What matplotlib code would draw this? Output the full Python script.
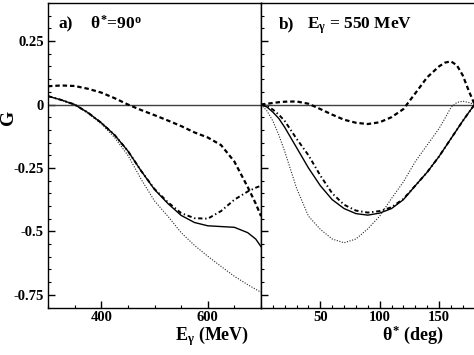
import matplotlib
matplotlib.use("Agg")
import matplotlib.pyplot as plt
from matplotlib.ticker import MultipleLocator

plt.rcParams['font.family'] = ['Liberation Serif', 'DejaVu Serif']
plt.rcParams['font.weight'] = 'bold'
plt.rcParams['mathtext.fontset'] = 'custom'
plt.rcParams['mathtext.rm'] = 'Liberation Serif:bold'
plt.rcParams['mathtext.it'] = 'Liberation Serif:bold'
plt.rcParams['mathtext.bf'] = 'Liberation Serif:bold'

# panel a) theta* = 90 deg, G vs photon energy
egam = [300, 325, 350, 375, 400, 425, 450, 475, 500, 525, 550, 575, 600, 625, 650, 675, 690, 700]
a_solid = [0.033, 0.018, 0.0, -0.032, -0.072, -0.12, -0.183, -0.262, -0.335, -0.39, -0.437, -0.465,
           -0.478, -0.481, -0.484, -0.505, -0.53, -0.56]
a_dashed = [0.072, 0.075, 0.073, 0.062, 0.047, 0.025, 0.0, -0.022, -0.042, -0.063, -0.085, -0.11,
            -0.13, -0.16, -0.225, -0.325, -0.39, -0.44]
a_dotted = [0.033, 0.016, -0.002, -0.035, -0.076, -0.13, -0.2, -0.295, -0.38, -0.44, -0.505, -0.555,
            -0.598, -0.638, -0.677, -0.71, -0.728, -0.74]
a_dashdot = [0.033, 0.018, 0.0, -0.032, -0.072, -0.12, -0.183, -0.262, -0.333, -0.385, -0.428, -0.448,
             -0.45, -0.42, -0.375, -0.343, -0.328, -0.32]

# panel b) E_gamma = 550 MeV, G vs theta*
theta = [0, 5, 10, 15, 20, 30, 40, 50, 60, 70, 80, 90, 100, 110, 120, 130, 140, 150, 155, 160, 165, 170, 175, 180]
b_solid = [0.0, -0.01, -0.03, -0.055, -0.09, -0.17, -0.25, -0.32, -0.375, -0.41, -0.43, -0.436, -0.428,
           -0.41, -0.375, -0.32, -0.267, -0.205, -0.17, -0.135, -0.1, -0.065, -0.032, 0.0]
b_dashed = [0.0, 0.003, 0.006, 0.009, 0.011, 0.012, 0.003, -0.018, -0.04, -0.06, -0.072, -0.077, -0.07,
            -0.05, -0.018, 0.044, 0.107, 0.15, 0.165, 0.17, 0.155, 0.115, 0.055, 0.0]
b_dotted = [0.0, -0.025, -0.065, -0.12, -0.185, -0.33, -0.44, -0.492, -0.53, -0.545, -0.53, -0.49, -0.44,
            -0.37, -0.305, -0.225, -0.16, -0.095, -0.055, -0.012, 0.008, 0.013, 0.008, 0.0]
b_dashdot = [0.0, -0.006, -0.02, -0.04, -0.065, -0.135, -0.2, -0.28, -0.35, -0.395, -0.418, -0.426, -0.42,
             -0.405, -0.372, -0.32, -0.267, -0.205, -0.17, -0.135, -0.1, -0.065, -0.032, 0.0]

styles = {
    'solid': dict(color='black', lw=1.0, linestyle='-'),
    'dashed': dict(color='black', lw=1.6, linestyle=(0, (2.0, 1.3))),
    'dotted': dict(color='0.15', lw=0.8, linestyle=(0, (1.0, 1.4))),
    'dashdot': dict(color='black', lw=1.4, linestyle=(0, (2.2, 1.4, 0.7, 1.4))),
}

fig = plt.figure(figsize=(4.74, 3.55), dpi=100)
ax1 = fig.add_axes([48 / 474, 1 - 307.5 / 355, 213 / 474, 304.5 / 355])
ax2 = fig.add_axes([261 / 474, 1 - 307.5 / 355, 213.6 / 474, 304.5 / 355])

for ax, x, curves in [(ax1, egam, (a_solid, a_dashed, a_dotted, a_dashdot)),
                      (ax2, theta, (b_solid, b_dashed, b_dotted, b_dashdot))]:
    ax.axhline(0, color='0.25', lw=1.0)
    for y, key in zip(curves, ['solid', 'dashed', 'dotted', 'dashdot']):
        ax.plot(x, y, **styles[key])
    ax.set_ylim(-0.8, 0.4)
    ax.yaxis.set_major_locator(MultipleLocator(0.25))
    ax.yaxis.set_minor_locator(MultipleLocator(0.05))
    ax.tick_params(which='both', direction='in', top=False, right=False, labelsize=10.5)
    ax.tick_params(which='major', length=5, width=1.0, pad=3)
    ax.tick_params(axis='x', which='major', pad=2.3)
    ax.tick_params(which='minor', length=2.5, width=0.8)
    for s in ax.spines.values():
        s.set_linewidth(1.0)

ax1.set_xlim(300, 700)
ax1.xaxis.set_major_locator(MultipleLocator(200))
ax1.xaxis.set_minor_locator(MultipleLocator(50))
ax1.set_yticks([0.25, 0, -0.25, -0.5, -0.75])
ax1.set_yticklabels(['0.25', '0', '-0.25', '-0.5', '-0.75'])

ax2.set_xlim(0, 180)
ax2.xaxis.set_major_locator(MultipleLocator(50))
ax2.xaxis.set_minor_locator(MultipleLocator(10))
ax2.set_xticks([50, 100, 150])
ax2.tick_params(labelleft=False)
ax2.spines['right'].set_visible(False)

ax1.text(0.047, 0.915, 'a)', transform=ax1.transAxes, fontsize=12.5, fontweight='bold')
ax1.text(0.197, 0.915, r'$\theta^{*}$=90$^{o}$', transform=ax1.transAxes, fontsize=12.5,
         fontweight='bold')
ax2.text(0.084, 0.915, 'b)', transform=ax2.transAxes, fontsize=12.5, fontweight='bold')
ax2.text(0.214, 0.915, r'E$_{\gamma}$ = 550 MeV', transform=ax2.transAxes, fontsize=12.5,
         fontweight='bold')

fig.text(212 / 474, 1 - 340 / 355, r'E$_{\gamma}$ (MeV)', ha='center', va='baseline',
         fontsize=13, fontweight='bold')
fig.text(413 / 474, 1 - 340 / 355, r'$\theta^{*}$ (deg)', ha='center', va='baseline',
         fontsize=13, fontweight='bold')
fig.text(9 / 474, 1 - 117.5 / 355, 'G', rotation=90, ha='center', va='center',
         fontsize=14, fontweight='bold')

fig.savefig('out.png', dpi=100)
